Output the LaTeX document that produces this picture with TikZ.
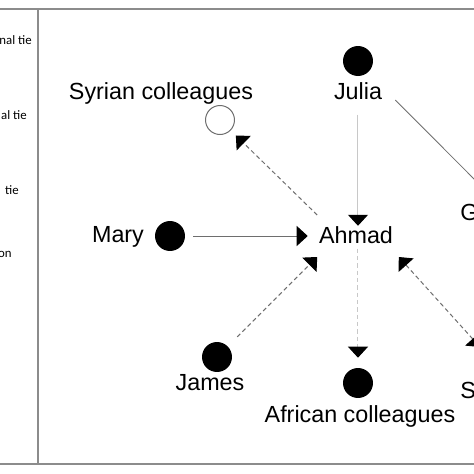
\documentclass[tikz,border=0pt]{standalone}
\usepackage{fontspec}
\setmainfont{Liberation Sans}
\newfontfamily\legendfont{Carlito}
\usepackage{tikz}
\usetikzlibrary{arrows.meta, positioning}
\definecolor{framegray}{RGB}{140,140,140}
\definecolor{tiedark}{RGB}{110,110,110}
\definecolor{tielight}{RGB}{200,200,200}

\begin{document}
\begin{tikzpicture}[x=0.21097mm, y=-0.21097mm,
    person/.style={circle, fill=black, minimum size=18pt, inner sep=0pt},
    crowd/.style={circle, draw=tiedark, fill=white, line width=0.6pt, minimum size=17.4pt, inner sep=0pt},
    who/.style={anchor=base, inner sep=0pt, font=\fontsize{14}{16}\selectfont},
    legend/.style={anchor=base east, inner sep=0pt, font=\legendfont\fontsize{7.7}{9}\selectfont},
    tiehead/.style={-{Triangle[width=12pt,length=6.6pt,color=black]}},
    twohead/.style={{Triangle[width=12pt,length=6.6pt,color=black]}-{Triangle[width=12pt,length=6.6pt,color=black]}},
    solidtie/.style={tiedark, line width=0.6pt},
    lighttie/.style={tielight, line width=0.6pt},
    dashtie/.style={tiedark, line width=0.6pt, dash pattern=on 2.6pt off 1.8pt},
    lightdash/.style={tielight, line width=0.6pt, dash pattern=on 2.6pt off 1.8pt}]
    \useasboundingbox (0,0) rectangle (474,474);
    \clip (0,0) rectangle (474,474);

    % frame
    \draw[framegray, line width=0.9pt] (0,9) -- (474,9);
    \draw[framegray, line width=0.9pt] (0,464) -- (474,464);
    \draw[framegray, line width=0.9pt] (38,9) -- (38,464);

    % legend (cut off)
    \node[legend] (leg1) at (32,44) {nal tie};
    \node[legend] (leg2) at (27,119) {al tie};
    \node[legend] (leg3) at (19,194) {tie};
    \node[legend] (leg4) at (12,257) {on};

    % actors
    \node[person] (juliadot) at (358,61) {};
    \node[who] (julia) at (358,99) {Julia};
    \node[crowd] (syrian) at (220,120) {};
    \node[who] (syrianlbl) at (161,99) {Syrian colleagues};
    \node[person] (marydot) at (170,236) {};
    \node[who] (mary) at (118,242) {Mary};
    \node[who, inner xsep=6.6pt] (ahmad) at (356,243) {Ahmad};
    \node[person] (jamesdot) at (217,357) {};
    \node[who] (james) at (210,390) {James};
    \node[person] (africandot) at (358,383) {};
    \node[who] (african) at (360,422) {African colleagues};
    \node[who, anchor=base west] (g) at (460,220) {G};
    \node[who, anchor=base west] (s) at (460,398) {S};
    \coordinate (gend) at (500,205);
    \coordinate (send) at (480,347);

    % ties
    \draw[solidtie, tiehead, shorten <=4.8pt] (marydot) -- (marydot -| ahmad.west);
    \draw[lighttie, tiehead, shorten <=9pt] (julia) -- (julia |- ahmad.north);
    \draw[dashtie, tiehead, shorten >=4.3pt] ([xshift=5.7pt, yshift=16.8pt]ahmad.base west) -- (syrian);
    \draw[dashtie, tiehead, shorten <=7.9pt] (jamesdot) -- ([xshift=5.7pt, yshift=-8.4pt]ahmad.base west);
    \draw[lightdash, tiehead, shorten <=3pt, shorten >=6pt] (africandot |- ahmad.south) -- (africandot);
    \draw[dashtie, twohead] ([xshift=-3.3pt, yshift=-8.4pt]ahmad.base east) -- (send);
    \draw[tiedark, line width=0.5pt] ([xshift=7.8pt, yshift=-0.6pt]julia.base east) -- (gend);
\end{tikzpicture}
\end{document}
